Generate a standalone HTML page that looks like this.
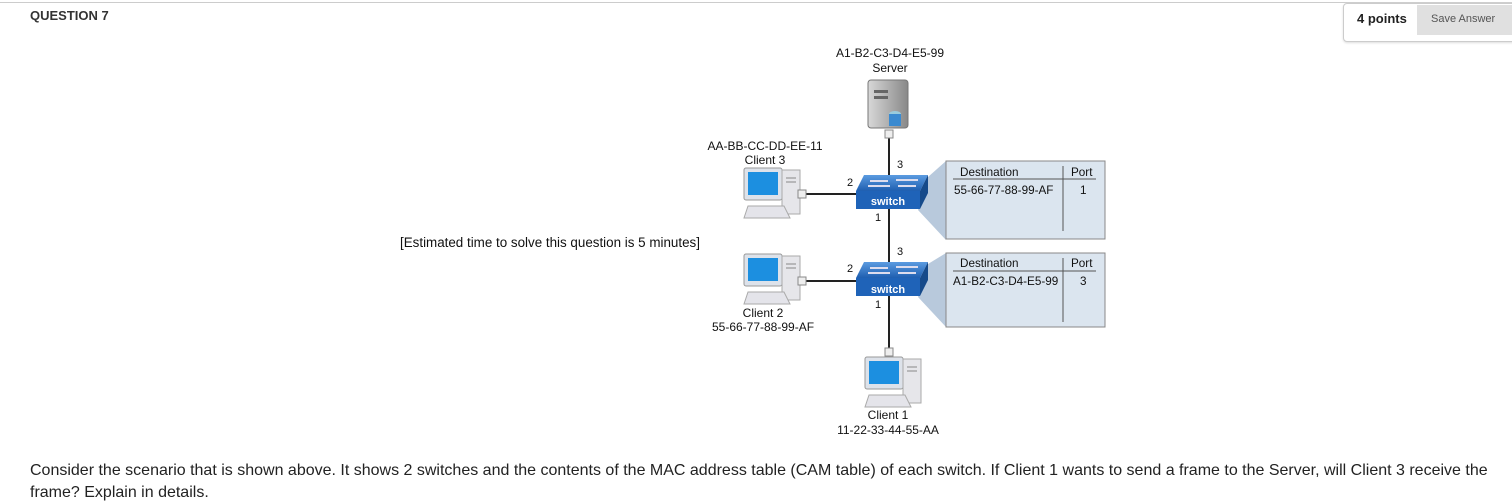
<!DOCTYPE html>
<html><head><meta charset="utf-8"><style>
body{margin:0;width:1512px;height:504px;background:#fff;position:relative;overflow:hidden;font-family:"Liberation Sans",Arial,sans-serif;color:#222}
.a{position:absolute;white-space:nowrap}
</style></head><body>
<div class="a" style="left:0;top:2px;width:1512px;height:1px;background:#ccc"></div>
<div class="a" style="left:30px;top:8px;font-size:13px;font-weight:bold;color:#333">QUESTION 7</div>
<div class="a" style="left:1343px;top:3px;width:175px;height:37px;border:1px solid #ccc;border-radius:4px;background:#fff;box-shadow:0 1px 2px #ddd"></div>
<div class="a" style="left:1357px;top:11px;font-size:13px;font-weight:bold;color:#222">4 points</div>
<div class="a" style="left:1417px;top:5px;width:95px;height:30px;background:#e0e0e0"></div>
<div class="a" style="left:1431px;top:13px;font-size:11px;color:#555">Save Answer</div>
<div class="a" style="left:400px;top:235px;font-size:13.4px;color:#111">[Estimated time to solve this question is 5 minutes]</div>
<svg class="a" style="left:0;top:0" width="1512" height="504" font-family="Liberation Sans,Arial,sans-serif">
<defs>
<linearGradient id="sw" x1="0" y1="0" x2="0" y2="1"><stop offset="0" stop-color="#5b9be0"/><stop offset="1" stop-color="#1f5fb0"/></linearGradient>
<linearGradient id="srv" x1="0" y1="0" x2="1" y2="0"><stop offset="0" stop-color="#d8d8d8"/><stop offset="1" stop-color="#888"/></linearGradient>
<g id="pc">
<rect x="0" y="2" width="38" height="32" rx="2" fill="#dde2ea" stroke="#999"/>
<rect x="4" y="6" width="30" height="23" fill="#1c8fe0"/>
<rect x="38" y="4" width="18" height="44" fill="#e6e6ea" stroke="#aaa"/>
<line x1="42" y1="12" x2="52" y2="12" stroke="#888"/><line x1="42" y1="16" x2="52" y2="16" stroke="#888"/>
<polygon points="4,40 40,40 46,52 0,52" fill="#e4e4ea" stroke="#aaa"/>
</g>
</defs>
<g fill="#111" font-size="12" text-anchor="middle">
<text x="890" y="57">A1-B2-C3-D4-E5-99</text><text x="890" y="72">Server</text>
<text x="765" y="150">AA-BB-CC-DD-EE-11</text><text x="765" y="164">Client 3</text>
<text x="763" y="317">Client 2</text><text x="763" y="331">55-66-77-88-99-AF</text>
<text x="888" y="419">Client 1</text><text x="888" y="434">11-22-33-44-55-AA</text>
</g>
<line x1="889" y1="130" x2="889" y2="362" stroke="#222" stroke-width="2"/>
<line x1="805" y1="194" x2="860" y2="194" stroke="#222" stroke-width="2"/>
<line x1="805" y1="281" x2="860" y2="281" stroke="#222" stroke-width="2"/>
<rect x="868" y="80" width="40" height="48" rx="3" fill="url(#srv)" stroke="#777"/>
<rect x="874" y="90" width="14" height="3" fill="#666"/><rect x="874" y="96" width="14" height="3" fill="#666"/>
<ellipse cx="895" cy="114" rx="6" ry="3" fill="#9cd"/><rect x="889" y="114" width="12" height="12" fill="#3a8ad0"/>
<rect x="885" y="130" width="8" height="8" fill="#eee" stroke="#888"/>
<polygon points="928,177 946,161 946,240 918,210" fill="#b8c9dc"/>
<rect x="946" y="161" width="159" height="78" fill="#dbe5ef" stroke="#888"/>
<polygon points="928,264 946,253 946,327 918,297" fill="#b8c9dc"/>
<rect x="946" y="253" width="159" height="74" fill="#dbe5ef" stroke="#888"/>
<g stroke="#555"><line x1="953" y1="179" x2="1096" y2="179"/><line x1="1063" y1="166" x2="1063" y2="231"/>
<line x1="953" y1="271" x2="1096" y2="271"/><line x1="1063" y1="258" x2="1063" y2="322"/></g>
<g font-size="11.7" fill="#111">
<text x="960" y="176">Destination</text><text x="1071" y="176">Port</text>
<text x="954" y="194">55-66-77-88-99-AF</text><text x="1080" y="194">1</text>
<text x="960" y="267">Destination</text><text x="1071" y="267">Port</text>
<text x="953" y="285">A1-B2-C3-D4-E5-99</text><text x="1080" y="285">3</text>
</g>
<g transform="translate(856,175)">
<polygon points="8,0 72,0 64,16 0,16" fill="url(#sw)"/><rect x="0" y="16" width="64" height="18" fill="#1f63b8"/><polygon points="64,16 72,0 72,18 64,34" fill="#164a8a"/>
<path d="M12,11 h22 M40,5 h22 M14,6 h18 M42,11 h18" stroke="#dde" stroke-width="2"/>
<text x="32" y="30" fill="#fff" font-size="11" font-weight="bold" text-anchor="middle">switch</text></g>
<g transform="translate(856,262)">
<polygon points="8,0 72,0 64,16 0,16" fill="url(#sw)"/><rect x="0" y="16" width="64" height="18" fill="#1f63b8"/><polygon points="64,16 72,0 72,18 64,34" fill="#164a8a"/>
<path d="M12,11 h22 M40,5 h22 M14,6 h18 M42,11 h18" stroke="#dde" stroke-width="2"/>
<text x="32" y="31" fill="#fff" font-size="11" font-weight="bold" text-anchor="middle">switch</text></g>
<g font-size="11" fill="#111"><text x="897" y="168">3</text><text x="847" y="186">2</text><text x="875" y="221">1</text>
<text x="897" y="255">3</text><text x="847" y="272">2</text><text x="875" y="308">1</text></g>
<use href="#pc" x="744" y="166"/><rect x="798" y="190" width="8" height="8" fill="#eee" stroke="#888"/>
<use href="#pc" x="744" y="252"/><rect x="798" y="277" width="8" height="8" fill="#eee" stroke="#888"/>
<use href="#pc" x="865" y="355"/><rect x="885" y="348" width="8" height="8" fill="#eee" stroke="#888"/>
</svg>
<div class="a" style="left:30px;top:460px;font-size:16px;color:#222;line-height:22px;white-space:normal;width:1460px">Consider the scenario that is shown above. It shows 2 switches and the contents of the MAC address table (CAM table) of each switch. If Client 1 wants to send a frame to the Server, will Client 3 receive the frame? Explain in details.</div>
</body></html>
